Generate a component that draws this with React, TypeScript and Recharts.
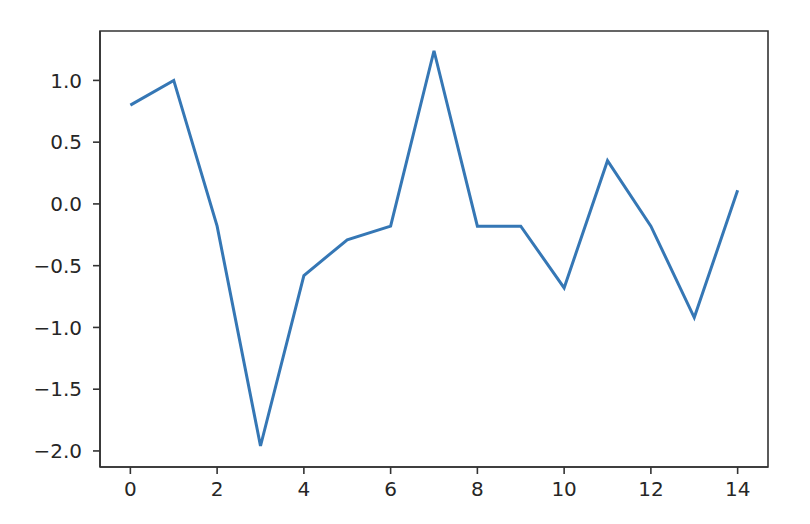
import { LineChart, Line, XAxis, YAxis, ReferenceArea } from 'recharts';

const steps = [0, 1, 2, 3, 4, 5, 6, 7, 8, 9, 10, 11, 12, 13, 14];
const values = [0.8, 1.0, -0.18, -1.96, -0.58, -0.29, -0.18, 1.24, -0.18, -0.18, -0.68, 0.35, -0.18, -0.92, 0.11];
const xTicks = [0, 2, 4, 6, 8, 10, 12, 14];
const yTicks = [-2, -1.5, -1, -0.5, 0, 0.5, 1];

const xDomain: [number, number] = [-0.7, 14.7];
const yDomain: [number, number] = [-2.13, 1.4];

const data = steps.map((x, i) => ({ x, y: values[i] }));

const FONT = { fontSize: 20, fill: '#262626', fontFamily: 'DejaVu Sans' };
const FRAME = '#333333';

// matplotlib draws negatives with a real minus sign
const fmtY = (v: number) => (v < 0 ? '\u2212' : '') + Math.abs(v).toFixed(1);

export default function App() {
  return (
    <div style={{ position: 'absolute', left: 0, top: 0, width: 810, height: 524, background: '#fff' }}>
      <LineChart width={810} height={524} data={data} margin={{ top: 31, right: 42, bottom: 0, left: 0 }}>
        <XAxis
          dataKey="x"
          type="number"
          domain={xDomain}
          ticks={xTicks}
          allowDataOverflow
          height={57}
          tick={FONT}
          tickSize={7}
          tickMargin={8}
          tickLine={{ stroke: FRAME, strokeWidth: 1.6 }}
          axisLine={{ stroke: FRAME, strokeWidth: 1.6 }}
        />
        <YAxis
          type="number"
          domain={yDomain}
          ticks={yTicks}
          allowDataOverflow
          width={100}
          tick={FONT}
          tickFormatter={fmtY}
          tickSize={7}
          tickMargin={11}
          tickLine={{ stroke: FRAME, strokeWidth: 1.6 }}
          axisLine={{ stroke: FRAME, strokeWidth: 1.6 }}
        />
        {/* full box around the plot, like matplotlib's spines */}
        <ReferenceArea
          x1={xDomain[0]}
          x2={xDomain[1]}
          y1={yDomain[0]}
          y2={yDomain[1]}
          fill="none"
          fillOpacity={0}
          stroke={FRAME}
          strokeWidth={1.6}
          ifOverflow="visible"
        />
        <Line
          type="linear"
          dataKey="y"
          stroke="#3577b5"
          strokeWidth={3}
          dot={false}
          activeDot={false}
          isAnimationActive={false}
        />
      </LineChart>
    </div>
  );
}
